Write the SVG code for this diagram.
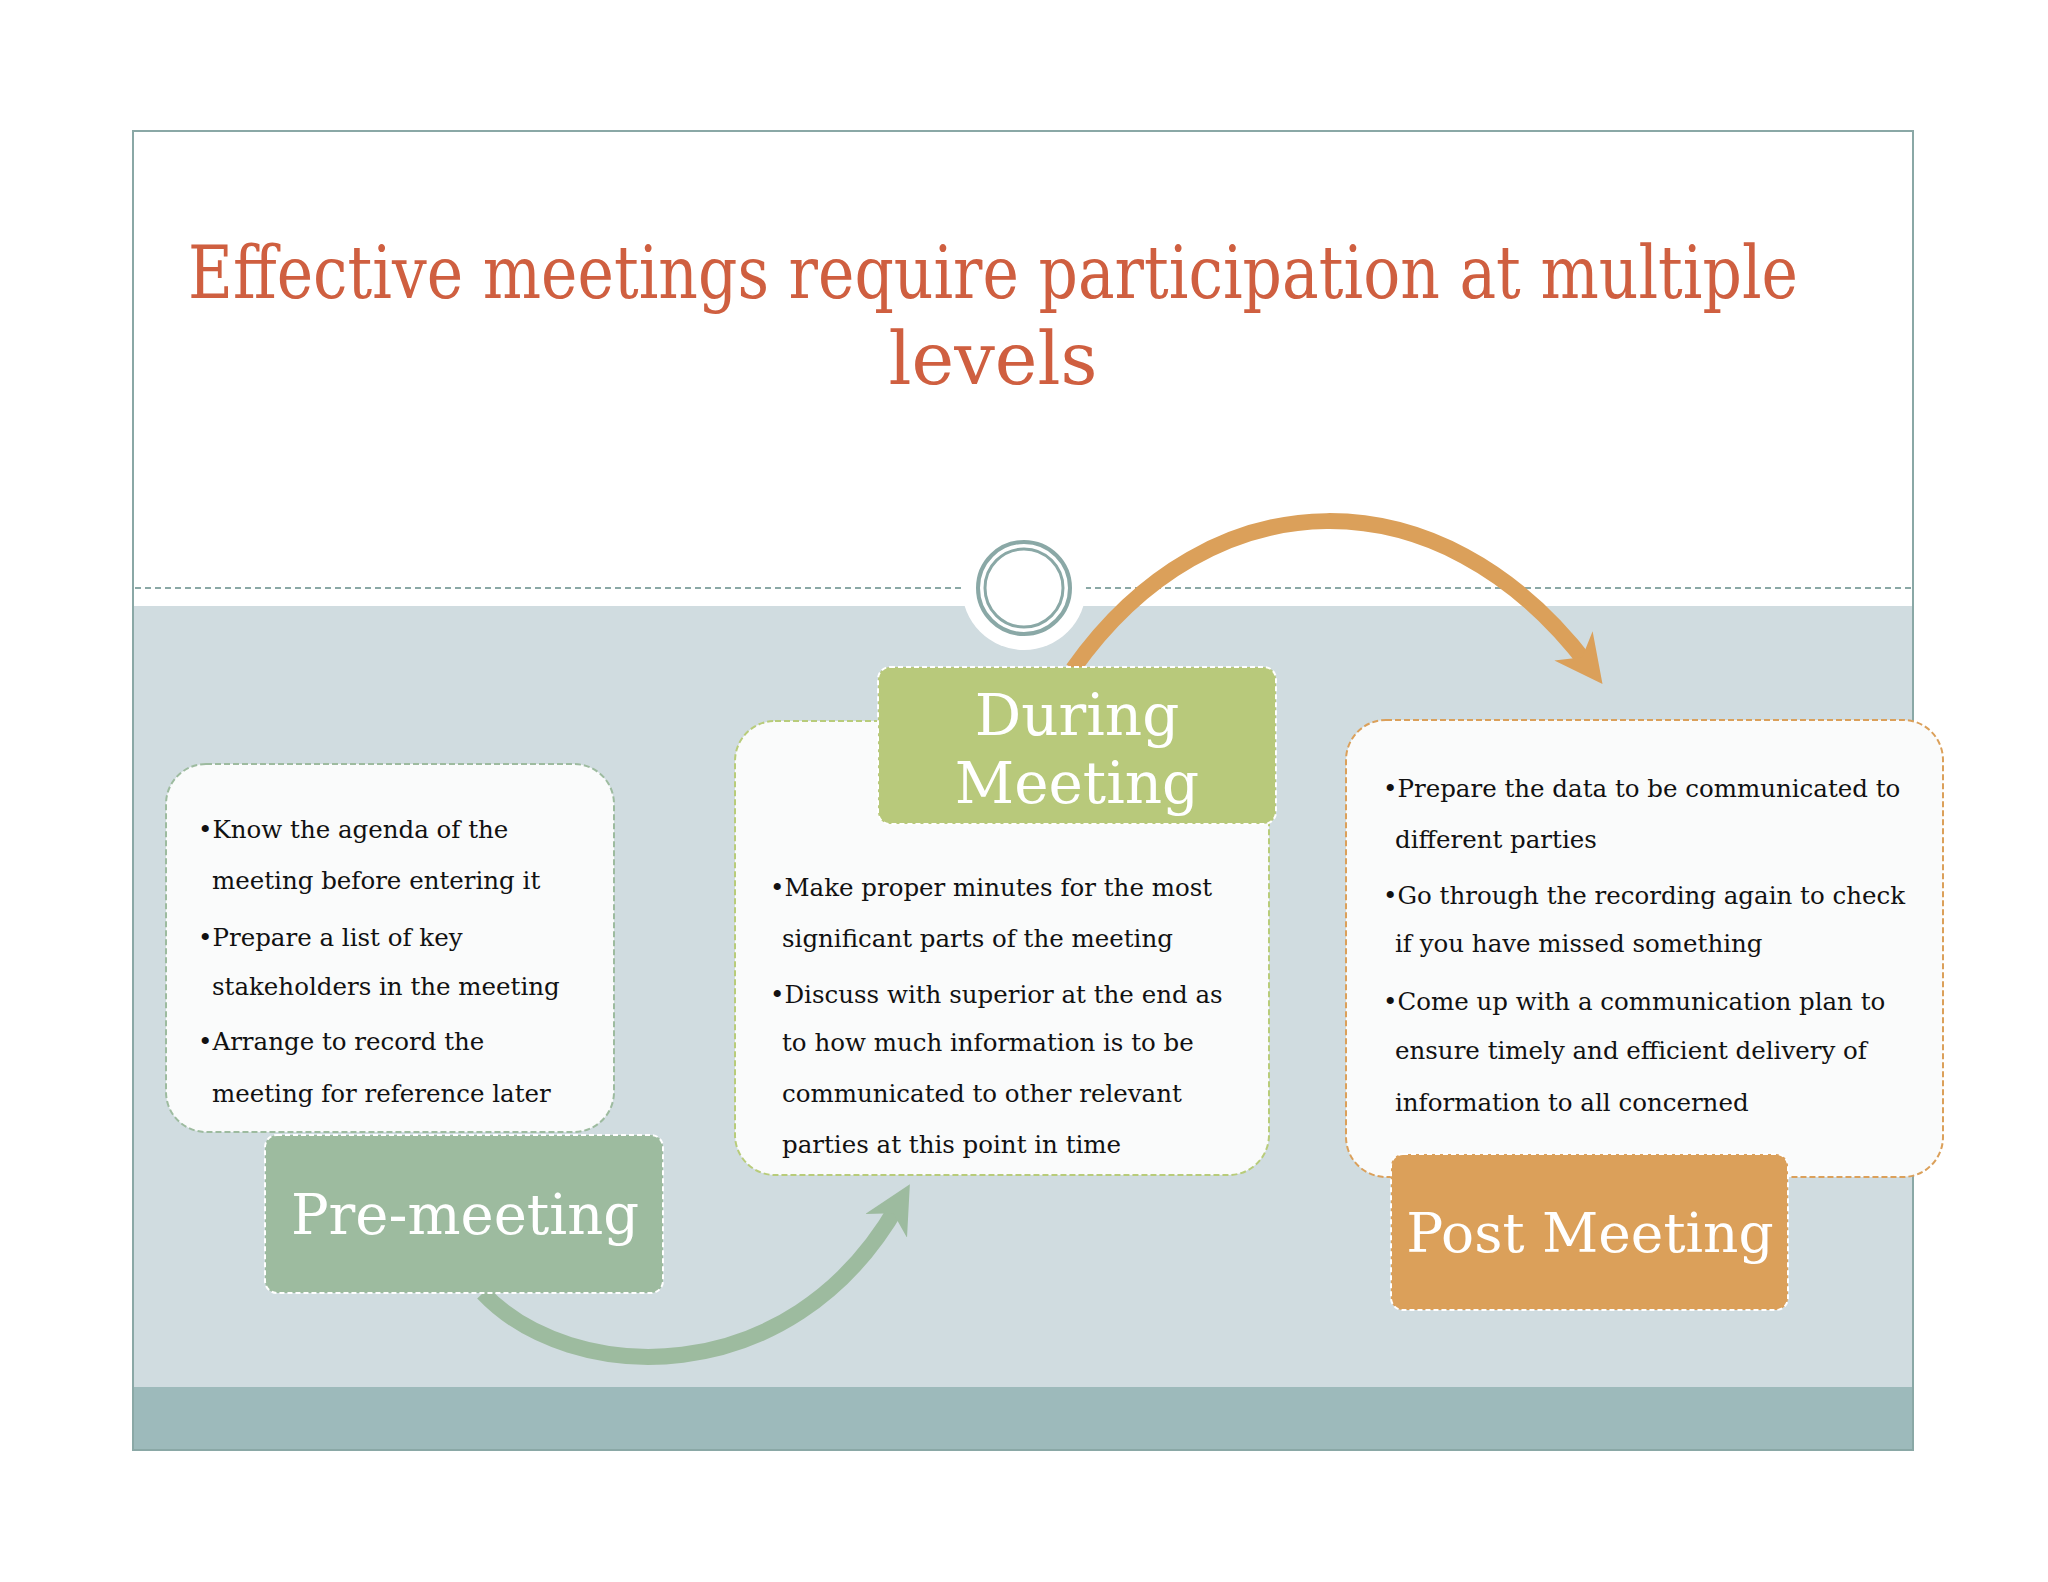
<svg xmlns="http://www.w3.org/2000/svg" width="2048" height="1582" viewBox="0 0 2048 1582">
<style>
.t{font-family:"DejaVu Serif","Liberation Serif",serif;}
.b{font-family:"DejaVu Serif","Liberation Serif",serif;font-size:24.5px;fill:#111;}
.lbl{font-family:"DejaVu Serif","Liberation Serif",serif;fill:#fff;text-anchor:middle;}
.box{fill:#fafbfb;stroke-dasharray:6 3;stroke-width:2;}
</style>
<defs>
<marker id="ag" viewBox="0 0 10 10" refX="5" refY="5" markerWidth="3" markerHeight="3" orient="auto"><path d="M0,0 L10,5 L0,10 L3,5 z" fill="#9dbb9f"/></marker>
<marker id="ao" viewBox="0 0 10 10" refX="5" refY="5" markerWidth="3" markerHeight="3" orient="auto"><path d="M0,0 L10,5 L0,10 L3,5 z" fill="#dba05a"/></marker>
</defs>
<rect width="2048" height="1582" fill="#fff"/>
<rect x="133" y="606" width="1780" height="781" fill="#d0dce0"/>
<rect x="133" y="1387" width="1780" height="63" fill="#9dbabb"/>
<rect x="133" y="131" width="1780" height="1319" fill="none" stroke="#8aa8a6" stroke-width="2"/>
<line x1="135" y1="588" x2="1911" y2="588" stroke="#8aa8a6" stroke-width="2" stroke-dasharray="6 4"/>
<circle cx="1024" cy="588" r="62" fill="#fff"/>
<circle cx="1024" cy="588" r="46" fill="#fff" stroke="#8aa8a6" stroke-width="4"/>
<circle cx="1024" cy="588" r="39" fill="none" stroke="#8aa8a6" stroke-width="3"/>
<g id="title" class="t" fill="#cf5f40" font-size="72" text-anchor="middle">
<text x="993" y="298" textLength="1610" lengthAdjust="spacingAndGlyphs">Effective meetings require participation at multiple</text>
<text x="993" y="384">levels</text>
</g>
<g id="connectors" fill="none" stroke-width="16">
<path d="M483,1293 C570,1385 790,1395 898,1205" stroke="#9dbb9f" marker-end="url(#ag)"/>
<path d="M1073,669 C1210,475 1440,470 1588,665" stroke="#dba05a" marker-end="url(#ao)"/>
</g>
<g id="pre">
<rect class="box" x="166" y="764" width="448" height="368" rx="40" stroke="#9dbb9f"/>
<text class="b"><tspan x="198" y="838">•Know the agenda of the</tspan><tspan x="212" y="889">meeting before entering it</tspan><tspan x="198" y="946">•Prepare a list of key</tspan><tspan x="212" y="995">stakeholders in the meeting</tspan><tspan x="198" y="1050">•Arrange to record the</tspan><tspan x="212" y="1102">meeting for reference later</tspan></text>
<rect x="265" y="1135" width="398" height="158" rx="12" fill="#9dbb9f" stroke="#fff" stroke-width="2" stroke-dasharray="5 3"/>
<text class="lbl" x="465" y="1234" font-size="56">Pre-meeting</text>
</g>
<g id="during">
<rect class="box" x="735" y="721" width="534" height="454" rx="40" stroke="#b8cc7a"/>
<text class="b"><tspan x="770" y="896">•Make proper minutes for the most</tspan><tspan x="782" y="947">significant parts of the meeting</tspan><tspan x="770" y="1003">•Discuss with superior at the end  as</tspan><tspan x="782" y="1051">to how much information is to be</tspan><tspan x="782" y="1102">communicated to other relevant</tspan><tspan x="782" y="1153">parties at this point in time</tspan></text>
<rect x="878" y="667" width="398" height="157" rx="12" fill="#b8c97b" stroke="#fff" stroke-width="2" stroke-dasharray="5 3"/>
<text class="lbl" font-size="58"><tspan x="1077" y="735">During</tspan><tspan x="1077" y="803">Meeting</tspan></text>
</g>
<g id="post">
<rect class="box" x="1346" y="720" width="597" height="457" rx="40" stroke="#dba05a"/>
<text class="b"><tspan x="1383" y="797">•Prepare the data to be communicated to</tspan><tspan x="1395" y="848">different parties</tspan><tspan x="1383" y="904">•Go through the recording again to check</tspan><tspan x="1395" y="952">if you have missed something</tspan><tspan x="1383" y="1010">•Come up with a communication plan to</tspan><tspan x="1395" y="1059">ensure timely and efficient delivery of</tspan><tspan x="1395" y="1111">information to all concerned</tspan></text>
<rect x="1391" y="1154" width="397" height="156" rx="12" fill="#dba05a" stroke="#fff" stroke-width="2" stroke-dasharray="5 3"/>
<text class="lbl" x="1590" y="1252" font-size="55">Post Meeting</text>
</g>
</svg>
